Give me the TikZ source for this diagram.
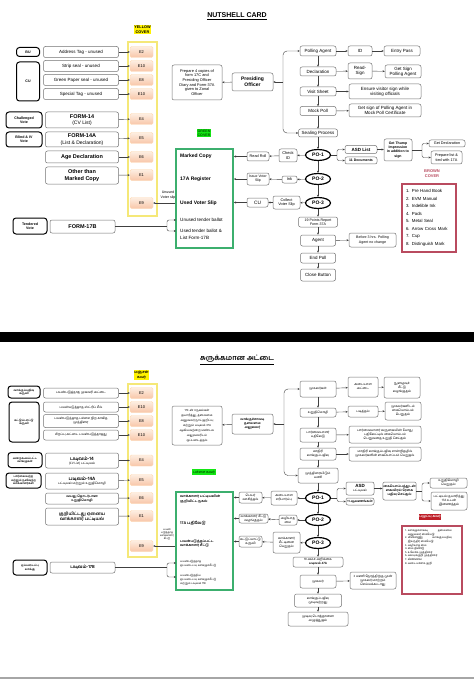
\documentclass[tikz,border=0pt]{standalone}
\usepackage{fontspec}
\setmainfont{Liberation Sans}
\newfontfamily\tamil[Script=Tamil]{Hind Madurai}
\usetikzlibrary{shapes.geometric, arrows.meta, calc}

\definecolor{greencov}{RGB}{60,175,110}
\definecolor{brownred}{RGB}{185,75,95}
\definecolor{yellowline}{RGB}{245,232,120}
\definecolor{peachtop}{RGB}{253,238,226}
\definecolor{peachbot}{RGB}{248,198,168}
\definecolor{limegreen}{RGB}{20,230,20}
\definecolor{darkgreen}{RGB}{0,90,0}
\definecolor{redtag}{RGB}{190,30,40}

\newcommand{\fsz}[2]{\fontsize{#1}{#2}\selectfont}

\begin{document}
\begin{tikzpicture}[x=1pt, y=-1pt,
    card/.style={rectangle, rounded corners=2pt, draw=black!55, line width=0.5pt, fill=white, align=center, inner sep=0.5pt, font=\fsz{4.5}{5.2}},
    tag/.style={card, minimum width=75pt, minimum height=11pt},
    col/.style={card, minimum width=36pt, minimum height=10pt},
    form/.style={card, minimum width=73pt, font=\bfseries\fsz{5.5}{6.3}},
    side/.style={rectangle, rounded corners=3pt, draw=black, line width=1pt, fill=white, align=center, inner sep=0.5pt, minimum width=23pt, font=\bfseries\fsz{3.6}{4.3}},
    ebox/.style={rectangle, rounded corners=1.5pt, draw=orange!30, top color=peachtop, bottom color=peachbot, minimum width=23pt, minimum height=11pt, font=\fsz{4}{4.8}},
    ycol/.style={rectangle, draw=yellowline, line width=1.3pt, minimum width=29pt},
    ytag/.style={fill=yellow, align=center, inner sep=0.8pt, font=\bfseries\fsz{3.8}{4.4}},
    gbox/.style={rectangle, draw=greencov, line width=1.6pt, fill=white},
    gtag/.style={fill=limegreen, text=darkgreen, align=center, inner sep=0.8pt, font=\bfseries\fsz{3.6}{4.2}},
    gtxt/.style={anchor=west, inner sep=0pt, align=left, font=\bfseries\fsz{5}{6}},
    gsub/.style={anchor=west, inner sep=0pt, align=left, font=\fsz{4.6}{7}},
    listbox/.style={rectangle, draw=brownred, line width=1.4pt, fill=white},
    btag/.style={fill=redtag, text=white, inner sep=0.8pt, font=\tamil\bfseries\fsz{3.3}{4}},
    po/.style={ellipse, draw=black, line width=1.2pt, fill=white, minimum width=25pt, minimum height=11pt, inner sep=0pt, font=\bfseries\fsz{5}{6}},
    tam/.style={font=\tamil\fsz{3.2}{4}},
    tamb/.style={font=\tamil\bfseries\fsz{3.2}{4}},
    tside/.style={font=\tamil\bfseries\fsz{2.8}{3.5}},
    arrow/.style={-{Stealth[length=2.2pt, width=2pt]}, black!75, line width=0.4pt},
    link/.style={black!75, line width=0.4pt}
]
\useasboundingbox (0,0) rectangle (474,679);
\fill[white] (0,0) rectangle (474,679);
\fill[black] (0,332) rectangle (474,342);
\fill[black!35] (0,677) rectangle (474,679);

% ================= NUTSHELL CARD =================
\node[font=\bfseries\fsz{7}{8}] (title) at (237,16) {\underline{NUTSHELL CARD}};

% yellow cover
\node[ytag] (ycov) at (142.5,29.5) {YELLOW\\COVER};
\node[ycol, minimum height=174pt] (ycol) at (142.5,129) {};
\node[ebox] (e2)   at (141.5,52)  {E2};
\node[ebox] (e10a) at (141.5,66)  {E10};
\node[ebox] (e8)   at (141.5,80)  {E8};
\node[ebox] (e10b) at (141.5,94)  {E10};
\node[ebox] (e4)   at (141.5,119) {E4};
\node[ebox] (e5)   at (141.5,138) {E5};
\node[ebox] (e6)   at (141.5,157) {E6};
\node[ebox] (e1)   at (141.5,175) {E1};
\node[ebox] (e9)   at (141.5,203) {E9};

% left side
\node[side, minimum height=9pt]  (bu) at (28,52)   {BU};
\node[side, minimum height=39pt] (cu) at (28,81.5) {CU};
\node[side, minimum width=36pt, minimum height=16pt] (chal)  at (24,120)   {Challenged\\Vote};
\node[side, minimum width=36pt, minimum height=15pt] (blind) at (24,139.5) {Blind \& IV\\Vote};
\node[side, minimum width=34pt, minimum height=16pt] (tend)  at (30,226)   {Tendered\\Vote};

\node[tag] (addr)   at (81,52) {Address Tag - unused};
\node[tag] (strip)  at (81,66) {Strip seal - unused};
\node[tag] (gpaper) at (81,80) {Green Paper seal - unused};
\node[tag] (spl)    at (81,94) {Special Tag - unused};
\node[form, minimum height=16pt] (f14)   at (82,120)   {FORM-14\\{\mdseries\fsz{5}{6}(CV List)}};
\node[form, minimum height=15pt] (f14a)  at (82,139.5) {FORM-14A\\{\mdseries\fsz{5}{6}(List \& Declaration)}};
\node[form, minimum height=12pt] (age)   at (82,157)   {Age Declaration};
\node[form, minimum height=17pt] (other) at (82,175.5) {Other than\\Marked Copy};
\node[form, minimum width=65pt, minimum height=13pt] (f17b) at (82.5,226.5) {FORM-17B};

% green cover
\node[font=\fsz{3.6}{4.2}, align=center] (uvs) at (168,195) {Unused\\Voter slip};
\node[gbox, minimum width=57pt, minimum height=99pt] (green) at (204.5,198.5) {};
\node[gtag] (gcov) at (204,133) {GREEN\\COVER};
\node[gtxt] (mcopy) at (180,156) {Marked Copy};
\node[gtxt] (reg)   at (180,179) {17A Register};
\node[gtxt] (uslip) at (180,203) {Used Voter Slip};
\node[gsub] (utb)   at (180,220) {Unused tender ballot};
\node[gsub] (ustb)  at (180,234.5) {Used tender ballot \&\\List Form-17B};
\coordinate (tb1) at (176,220);
\coordinate (tb2) at (176,231);
\coordinate (fk3) at (167,226.5);

% presiding officer
\node[card, minimum width=50pt, minimum height=35pt, font=\fsz{3.9}{4.7}] (prep) at (197,82.5) {Prepare 4 copies of\\form 17C and\\Presiding Officer\\Diary and Form-37A\\given to Zonal\\Officer};
\node[card, minimum width=41pt, minimum height=18pt, font=\bfseries\fsz{5}{6}] (pro) at (252.5,82) {Presiding\\Officer};
\coordinate (brk) at (283,82);

\node[col] (pagent) at (318,51) {Polling Agent};
\node[col, minimum height=9pt] (decl)  at (318,71.5)  {Declaration};
\node[col, minimum height=9pt] (visit) at (318,91.5)  {Visit Sheet};
\node[col, minimum height=9pt] (mock)  at (318,111)   {Mock Poll};
\node[col, minimum width=39pt, minimum height=8pt] (seal) at (318,133) {Sealing Process};

\node[card, minimum width=24pt, minimum height=10pt] (id)    at (360,51)   {ID};
\node[card, minimum width=36pt, minimum height=10pt] (entry) at (402,51)   {Entry Pass};
\node[card, minimum width=24pt, minimum height=16pt] (rsign) at (360,71)   {Read-\\Sign};
\node[card, minimum width=36pt, minimum height=13pt] (gsign) at (403,71.5) {Get Sign\\Polling Agent};
\node[card, minimum width=72pt, minimum height=15pt] (ensure) at (385,91.5) {Ensure visitor sign while\\visiting officials};
\node[card, minimum width=72pt, minimum height=13pt] (mcert)  at (385,110.5) {Get sign of Polling Agent in\\Mock Poll Certificate};

% polling officers
\node[po] (po1) at (318,155) {PO-1};
\node[po] (po2) at (318,179) {PO-2};
\node[po] (po3) at (318,203) {PO-3};
\node[card, minimum width=18pt, minimum height=13pt, font=\fsz{4}{4.7}] (chkid) at (288,155.5) {Check\\ID};
\node[card, minimum width=22pt, minimum height=9pt, font=\fsz{3.8}{4.5}] (rroll) at (258,156.5) {Read Roll};
\node[card, minimum width=15pt, minimum height=7pt, font=\fsz{4}{4.7}] (ink) at (289.5,179.5) {Ink};
\node[card, minimum width=22pt, minimum height=12pt, font=\fsz{3.5}{4.2}] (issue) at (258,179) {Issue Voter\\Slip};
\node[card, minimum width=27pt, minimum height=13pt, font=\fsz{3.8}{4.5}] (collect) at (286.5,202.5) {Collect\\Voter Slip};
\node[card, minimum width=21pt, minimum height=9pt, font=\fsz{4.8}{5.5}] (cuin) at (257.5,202.5) {CU};

\node[card, minimum width=32pt, minimum height=8pt, font=\bfseries\fsz{4.5}{5}] (asd) at (361,149.5) {ASD List};
\node[card, minimum width=32pt, minimum height=7pt, font=\bfseries\fsz{3.5}{4}] (docs) at (361,160.5) {11 Documents};
\node[card, minimum width=28pt, minimum height=22pt, font=\bfseries\fsz{3.5}{4.2}] (thumb) at (398,150) {Get Thump\\Impression\\in addition to\\sign};
\node[card, minimum width=36pt, minimum height=7pt, font=\fsz{3.8}{4.4}] (gdecl) at (447,143.5) {Get Declaration};
\node[card, minimum width=31pt, minimum height=13pt, font=\fsz{3.8}{4.4}] (plist) at (446.5,157.5) {Prepare list \&\\tied with 17A};
\node[font=\bfseries\fsz{4}{4.8}, text=brownred, align=center] (bcov) at (432,173.5) {BROWN\\COVER};
\node[listbox, minimum width=54pt, minimum height=68pt, text width=46pt, align=left, font=\fsz{4.4}{7.5}] (tools) at (429,218) {1. Pre Hand Book\\2. EVM Manual\\3. Indelible Ink\\4. Pads\\5. Metal Seal\\6. Arrow Cross Mark\\7. Cup\\8. Distinguish Mark};

\node[card, minimum width=39pt, minimum height=10pt, font=\fsz{3.6}{4.3}] (pts) at (318,222) {19 Points Report\\Form-37A};
\node[col, minimum width=35pt, minimum height=11pt] (agent) at (318,240.5) {Agent};
\node[card, minimum width=47pt, minimum height=14pt, font=\fsz{3.6}{4.3}] (before) at (372.5,240) {Before 3 hrs. Polling\\Agent no change};
\node[col, minimum width=35pt] (endp) at (318,258) {End Poll};
\node[col, minimum width=35pt, minimum height=12pt] (close) at (318,275) {Close Button};

% Edges
\foreach \a/\b in {addr/e2, strip/e10a, gpaper/e8, spl/e10b, f14/e4, f14a/e5, age/e6, other/e1}
  \draw[arrow] (\a) -- (\b);
\draw[link] (f17b) -- (fk3);
\draw[arrow, rounded corners=2pt] (fk3) |- (tb1);
\draw[arrow, rounded corners=2pt] (fk3) |- (tb2);
\draw[arrow] (e9 -| green.west) -- (e9);

\draw[arrow] (pro) -- (prep);
\draw[arrow] (brk) -- (pro);
\draw[arrow, rounded corners=4pt] (brk) |- (pagent);
\draw[arrow, rounded corners=4pt] (brk) |- (seal);
\foreach \a/\b in {pagent/decl, decl/visit, visit/mock, mock/seal, seal/po1, po1/po2, po2/po3, po3/pts, pts/agent, agent/endp, endp/close,
                   pagent/id, id/entry, decl/rsign, rsign/gsign, visit/ensure, mock/mcert, agent/before,
                   po1/chkid, chkid/rroll, po2/ink, ink/issue, po3/collect, collect/cuin}
  \draw[arrow] (\a) -- (\b);
\draw[arrow] (rroll) -- (rroll -| green.east);
\draw[arrow] (issue) -- (issue -| green.east);
\draw[arrow] (cuin) -- (cuin -| green.east);

\coordinate (fk1) at (337,155);
\draw[link] (po1) -- (fk1);
\draw[arrow, rounded corners=2pt] (fk1) |- (asd);
\draw[arrow, rounded corners=2pt] (fk1) |- (docs);
\draw[arrow] (asd) -- (asd -| thumb.west);
\coordinate (fk2) at (422,150);
\draw[link] (thumb) -- (fk2);
\draw[arrow, rounded corners=2pt] (fk2) |- (gdecl);
\draw[arrow, rounded corners=2pt] (fk2) |- (plist);

% ================= Tamil card =================
\node[font=\tamil\bfseries\fsz{7}{8}] (ttitle) at (237,360) {\underline{சுருக்கமான அட்டை}};

\node[ytag, font=\tamil\bfseries\fsz{3.6}{4.2}] (tycov) at (141.5,375) {மஞ்சள்\\கவர்};
\node[ycol, minimum height=173pt] (tycol) at (142.5,470.5) {};
\node[ebox] (te2)   at (141.5,393) {E2};
\node[ebox] (te10a) at (141.5,407) {E10};
\node[ebox] (te8)   at (141.5,421) {E8};
\node[ebox] (te10b) at (141.5,435) {E10};
\node[ebox] (te4)   at (141.5,460.5) {E4};
\node[ebox] (te5)   at (141.5,480) {E5};
\node[ebox] (te6)   at (141.5,498) {E6};
\node[ebox] (te1)   at (141.5,516) {E1};
\node[ebox] (te9)   at (141.5,546) {E9};

\node[side, tside, minimum width=32pt, minimum height=12pt] (tbu)    at (24,392)    {வாக்குப்பதிவு\\கருவி};
\node[side, tside, minimum width=30pt, minimum height=40pt] (tcu)    at (24,422)    {கட்டுப்பாட்டு\\கருவி};
\node[side, tside, minimum width=34pt, minimum height=15pt] (tchal)  at (25,460)    {அறைகூவப்பட்ட\\வாக்குகள்};
\node[side, tside, minimum width=35pt, minimum height=15pt] (tblind) at (23.5,480.5) {பார்வையற்ற\\மற்றும் நலிவுற்ற\\வாக்காளர்கள்};
\node[side, tside, minimum width=34pt, minimum height=15pt] (ttend)  at (30,567.5)  {ஒப்படைப்பு\\வாக்கு};

\node[tag, tam, minimum height=10pt] (taddr)   at (81,393) {பயன்படுத்தாத முகவரி அட்டை};
\node[tag, tam, minimum height=10pt] (tstrip)  at (81,407) {பயன்படுத்தாத ஸ்ட்ரிப் சீல்};
\node[tag, tam, minimum height=13pt] (tgpaper) at (81,421) {பயன்படுத்தாத பச்சை நிற காகித\\முத்திரை};
\node[tag, tam, minimum height=10pt] (tspl)    at (81,435) {சிறப்பு அட்டை பயன்படுத்தாதது};
\node[form, tam, minimum height=15pt] (tf14)  at (82,460.5) {{\bfseries\fsz{4.8}{5.5}படிவம்-14}\\(CV List) பட்டியல்};
\node[form, tam, minimum height=16pt] (tf14a) at (82,481)   {{\bfseries\fsz{4.8}{5.5}படிவம்-14A}\\பட்டியல் மற்றும் உறுதிமொழி};
\node[form, tamb, minimum height=11pt] (tage)  at (82,498.5) {வயது தொடர்பான\\உறுதிமொழி};
\node[form, minimum height=17pt, font=\tamil\bfseries\fsz{4.3}{5.2}] (tother) at (82,516.5) {குறியிட்டது ஏனைய\\வாக்காளர் பட்டியல்};
\node[form, minimum width=65pt, minimum height=11pt, font=\tamil\bfseries\fsz{4.5}{5.2}] (tf17b) at (82.5,567.5) {படிவம்-17B};

\node[font=\tamil\fsz{2.6}{3}, align=center] (tuvs) at (167,534) {பயன்\\படுத்தாத\\வாக்காளர்\\சீட்டு};
\node[gbox, minimum width=57pt, minimum height=98pt] (tgreen) at (204.5,541) {};
\node[gtag, font=\tamil\bfseries\fsz{3.5}{4}] (tgcov) at (204,472) {பச்சை கவர்};
\node[gtxt, font=\tamil\bfseries\fsz{3.4}{4.3}] (tmcopy) at (180,499) {வாக்காளர் பட்டியலின்\\குறியிட்ட நகல்};
\node[gtxt, font=\tamil\bfseries\fsz{4}{4.8}] (treg) at (180,523) {17A பதிவேடு};
\node[gtxt, font=\tamil\bfseries\fsz{3.4}{4.3}] (tuslip) at (180,543.5) {பயன்படுத்தப்பட்ட\\வாக்காளர் சீட்டு};
\node[gsub, font=\tamil\fsz{2.8}{3.7}] (tutb) at (180,564) {பயன்படுத்தாத\\ஒப்படைப்பு வாக்குச்சீட்டு};
\node[gsub, font=\tamil\fsz{2.8}{3.7}] (tustb) at (180,580) {பயன்படுத்திய\\ஒப்படைப்பு வாக்குச்சீட்டு\\மற்றும் படிவம் 17B};
\coordinate (ttb1) at (176,563);
\coordinate (ttb2) at (176,577);
\coordinate (tfk3) at (167,567.5);

\node[card, minimum width=50pt, minimum height=39pt, font=\tamil\fsz{3}{5}] (tprep) at (197,425.5) {17C-ன் 4 நகல்கள்\\தயாரித்து, தலைமை\\அலுவலர் நாட்குறிப்பு\\மற்றும் படிவம் 37A\\ஆகியவற்றை மண்டல\\அலுவலரிடம்\\ஒப்படைத்தல்};
\node[card, tamb, minimum width=41pt, minimum height=20pt] (tpro) at (252.5,424) {வாக்குச்சாவடி\\தலைமை\\அலுவலர்};
\coordinate (tbrk) at (284,424);

\node[col, tam, minimum height=16pt] (tpagent) at (318,389)   {முகவர்கள்};
\node[col, tam, minimum height=9pt]  (tdecl)   at (318,412.5) {உறுதிமொழி};
\node[col, tam, minimum height=14pt] (tvisit)  at (318,435)   {பார்வையாளர்\\பதிவேடு};
\node[col, tam, minimum height=12pt] (tmock)   at (318,454)   {மாதிரி\\வாக்குப்பதிவு};
\node[col, tam, minimum width=40pt, minimum height=15pt] (tseal) at (318,475.5) {முத்திரையிடும்\\பணி};

\node[card, tam, minimum width=30pt, minimum height=20pt] (tid)    at (363,387)   {அடையாள\\அட்டை};
\node[card, tam, minimum width=36pt, minimum height=21pt] (tentry) at (402,387.5) {நுழைவுச்\\சீட்டு\\வழங்குதல்};
\node[card, tam, minimum width=30pt, minimum height=11pt] (trsign) at (363,411.5) {படித்தல்};
\node[card, tam, minimum width=36pt, minimum height=18pt] (tgsign) at (403,411)   {முகவர்களிடம்\\கையொப்பம்\\பெறுதல்};
\node[card, tam, minimum width=72pt, minimum height=17pt] (tensure) at (385,434.5) {பார்வையாளர் வருகையின் போது\\பதிவேட்டில் கையொப்பம்\\பெறுவதை உறுதி செய்தல்};
\node[card, tam, minimum width=72pt, minimum height=14pt] (tmcert)  at (385,454)   {மாதிரி வாக்குப்பதிவு சான்றிதழில்\\முகவர்களின் கையொப்பம் பெறுதல்};

\node[po] (tpo1) at (318,498) {PO-1};
\node[po] (tpo2) at (318,520) {PO-2};
\node[po] (tpo3) at (318,543) {PO-3};
\node[card, tam, minimum width=26pt, minimum height=14pt] (tchkid)   at (284,498)     {அடையாள\\சரிபார்ப்பு};
\node[card, tam, minimum width=23pt, minimum height=11pt] (trroll)   at (250.5,497.5) {பெயர்\\வாசித்தல்};
\node[card, tam, minimum width=18pt, minimum height=10pt] (tink)     at (288,520)     {அழியாத\\மை};
\node[card, tam, minimum width=29pt, minimum height=9pt]  (tissue)   at (253.5,518.5) {வாக்காளர் சீட்டு\\வழங்குதல்};
\node[card, tam, minimum width=27pt, minimum height=21pt] (tcollect) at (286.5,542.5) {வாக்காளர்\\சீட்டினை\\பெறுதல்};
\node[card, tam, minimum width=23pt, minimum height=11pt] (tcuin)    at (250.5,541.5) {கட்டுப்பாட்டு\\கருவி};

\node[card, tam, minimum width=28pt, minimum height=13pt] (tasd) at (360,488.5) {{\rmfamily\bfseries\fsz{4.5}{5}ASD}\\பட்டியல்};
\node[card, tamb, minimum width=28pt, minimum height=7pt] (tdocs) at (360,501.5) {11 ஆவணங்கள்};
\node[card, tamb, minimum width=31pt, minimum height=18pt] (tthumb) at (399.5,491) {கையொப்பத்துடன்\\கைவிரல் ரேகை\\பதிவு செய்தல்};
\node[card, tam, minimum width=37pt, minimum height=10pt] (tgdecl) at (448.5,483) {உறுதிமொழி\\பெறுதல்};
\node[card, tam, minimum width=36pt, minimum height=18pt] (tplist) at (449,501) {பட்டியல் தயாரித்து\\17A உடன்\\இணைத்தல்};
\node[btag] (tbcov) at (430,517) {பழுப்பு கவர்};
\node[listbox, minimum width=60pt, minimum height=68pt] (ttools) at (432,560) {};
\node[anchor=north west, inner sep=0pt, font=\tamil\fsz{2.8}{3.6}] (ttoolstxt) at (405,529) {\begin{tabular}{@{}l@{\ }p{44pt}@{}}
1. & வாக்குச்சாவடி தலைமை அலுவலர் கையேடு\\
2. & மின்னணு வாக்குப்பதிவு இயந்திர கையேடு\\
3. & அழியாத மை\\
4. & மை திண்டு\\
5. & உலோக முத்திரை\\
6. & அம்புக்குறி முத்திரை\\
7. & கிண்ணம்\\
8. & அடையாளக் குறி
\end{tabular}};

\node[card, tam, minimum width=50pt, minimum height=10pt] (tpts) at (318,562) {19 அம்ச அறிக்கை\\{\bfseries படிவம்-37A}};
\node[col, tam, minimum height=13pt] (tagent) at (318,581.5) {முகவர்};
\node[card, tam, minimum width=46pt, minimum height=17pt] (tbefore) at (373,580.5) {3 மணி நேரத்திற்கு முன்\\முகவர் மாற்றம்\\செய்யக்கூடாது};
\node[card, tam, minimum width=47pt, minimum height=13pt] (tendp)  at (318,600.5) {வாக்குப்பதிவு\\முடிவுற்றது};
\node[card, tam, minimum width=60pt, minimum height=14pt] (tclose) at (318,619)   {முடிவு பொத்தானை\\அழுத்துதல்};

% Edges
\foreach \a/\b in {taddr/te2, tstrip/te10a, tgpaper/te8, tspl/te10b, tf14/te4, tf14a/te5, tage/te6, tother/te1}
  \draw[arrow] (\a) -- (\b);
\draw[link] (tf17b) -- (tfk3);
\draw[arrow, rounded corners=2pt] (tfk3) |- (ttb1);
\draw[arrow, rounded corners=2pt] (tfk3) |- (ttb2);
\draw[arrow] (te9 -| tgreen.west) -- (te9);

\draw[arrow] (tpro) -- (tprep);
\draw[arrow] (tbrk) -- (tpro);
\draw[arrow, rounded corners=4pt] (tbrk) |- (tpagent);
\draw[arrow, rounded corners=4pt] (tbrk) |- (tseal);
\foreach \a/\b in {tpagent/tdecl, tdecl/tvisit, tvisit/tmock, tmock/tseal, tseal/tpo1, tpo1/tpo2, tpo2/tpo3, tpo3/tpts, tpts/tagent, tagent/tendp, tendp/tclose,
                   tpagent/tid, tid/tentry, tdecl/trsign, trsign/tgsign, tvisit/tensure, tmock/tmcert, tagent/tbefore,
                   tpo1/tchkid, tchkid/trroll, tpo2/tink, tink/tissue, tpo3/tcollect, tcollect/tcuin}
  \draw[arrow] (\a) -- (\b);
\draw[arrow] (trroll) -- (trroll -| tgreen.east);
\draw[arrow] (tissue) -- (tissue -| tgreen.east);
\draw[arrow] (tcuin) -- (tcuin -| tgreen.east);

\coordinate (tfk1) at (337,498);
\draw[link] (tpo1) -- (tfk1);
\draw[arrow, rounded corners=2pt] (tfk1) |- (tasd);
\draw[arrow, rounded corners=2pt] (tfk1) |- (tdocs);
\draw[arrow] (tasd) -- (tasd -| tthumb.west);
\coordinate (tfk2) at (422,491);
\draw[link] (tthumb) -- (tfk2);
\draw[arrow, rounded corners=2pt] (tfk2) |- (tgdecl);
\draw[arrow, rounded corners=2pt] (tfk2) |- (tplist);

\end{tikzpicture}
\end{document}
